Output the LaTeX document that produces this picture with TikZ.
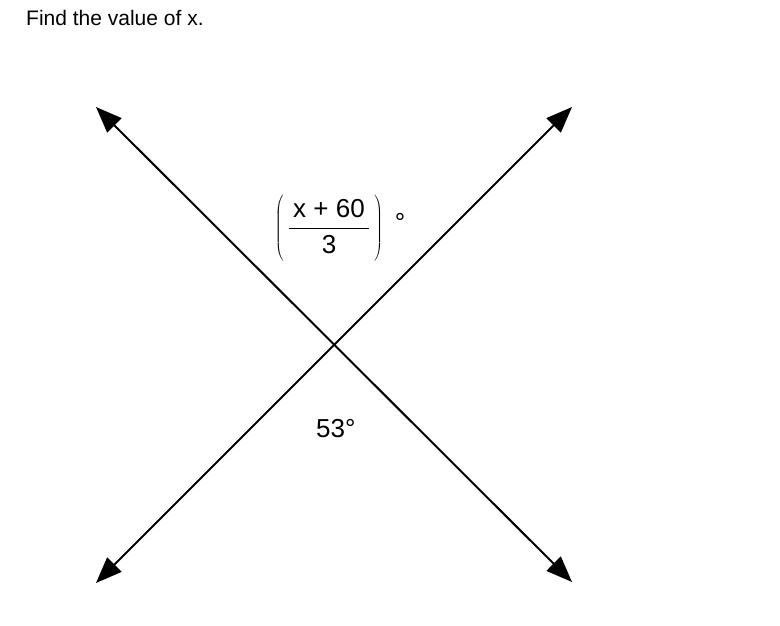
\documentclass[tikz,border=0pt]{standalone}
\usepackage{fontspec}
\setmainfont{Liberation Sans}
\usetikzlibrary{arrows.meta}
\begin{document}
\begin{tikzpicture}[x=1pt,y=-1pt,
  ray/.style={line width=2pt,{Triangle[length=26pt,width=20pt]}-{Triangle[length=26pt,width=20pt]}},
  lbl/.style={inner sep=0pt,font=\fontsize{26}{30}\selectfont}]
\useasboundingbox (0,0) rectangle (780,626);
\fill[white] (0,0) rectangle (780,626);
\node[anchor=base west,inner sep=0pt,font=\fontsize{21}{24}\selectfont] (title) at (26,26) {Find the value of x.};
\coordinate (tl) at (96,107);
\coordinate (br) at (572,582);
\coordinate (bl) at (96,583);
\coordinate (tr) at (572,107);
\draw[ray] (tl) -- (br);
\draw[ray] (bl) -- (tr);
\node[lbl] (frac) at (329,229) {$\displaystyle\left(\vphantom{\rule[-29pt]{0pt}{58pt}}\,\frac{\mbox{\,x + 60\,}\rule[-5pt]{0pt}{5pt}}{\rule{0pt}{24pt}\mbox{3}}\,\right)$};
\node[lbl,anchor=center] (deg) at (400,222) {°};
\node[lbl,anchor=base west] (ang) at (316,437) {53°};
\end{tikzpicture}
\end{document}
